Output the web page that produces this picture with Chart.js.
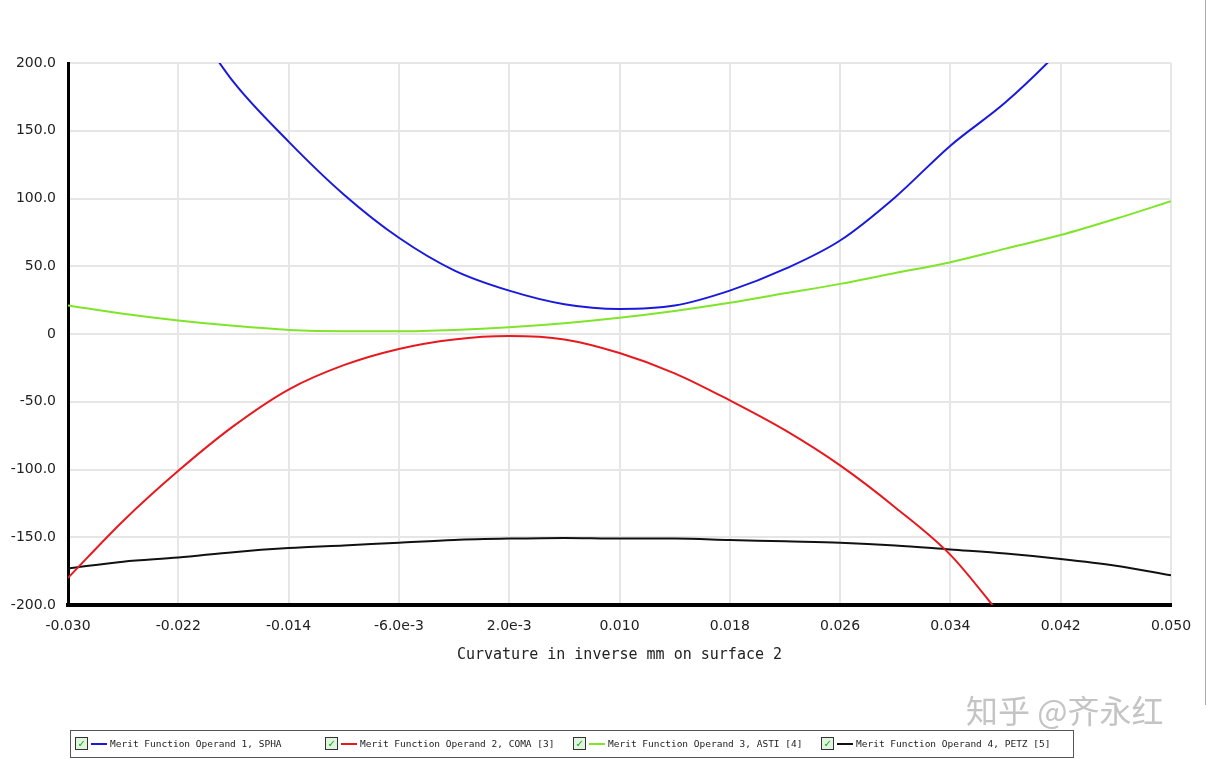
<!DOCTYPE html>
<html><head><meta charset="utf-8">
<script src="https://cdn.jsdelivr.net/npm/chart.js@4"></script>
<style>
body{margin:0;background:#fff;width:1225px;height:759px;overflow:hidden;position:relative;font-family:"DejaVu Sans",sans-serif}
#c{position:absolute;left:0;top:0}
#xt{position:absolute;left:68px;width:1103px;top:645px;text-align:center;font:15px "DejaVu Sans Mono",monospace;color:#222}
#leg{position:absolute;left:70px;top:730px;width:1002px;height:26px;border:1px solid #555;font:9.5px "DejaVu Sans Mono",monospace;color:#222}
.it{position:absolute;top:6px;display:flex;align-items:center}
.cb{width:11px;height:11px;border:1px solid #333;background:#dff5df;color:#0a0;font-size:11px;line-height:11px;text-align:center;font-weight:bold;margin-right:3px}
.ln{width:16px;height:2px;margin-right:3px}
#wm{position:absolute;left:966px;top:686px;font:32px "Noto Sans CJK SC";color:#c4c4c4}
#rb{position:absolute;left:1205px;top:0;width:1px;height:705px;background:#aaa}
</style></head><body>
<canvas id="c" width="1225" height="759"></canvas>
<div id="rb"></div>
<div id="xt">Curvature in inverse mm on surface 2</div>
<div id="wm">知乎 @齐永红</div>
<div id="leg"></div>
<script>
const xs=[-0.030,-0.026,-0.022,-0.018,-0.014,-0.010,-0.006,-0.002,0.002,0.006,0.010,0.014,0.018,0.022,0.026,0.030,0.034,0.038,0.042,0.046,0.050];
const spha=[360,300,245,186,142,103,71,47,32,22,18.5,21,32,48,69,101,139,171,210,255,300];
const coma=[-180,-138,-101,-68,-41,-23,-11,-4,-1.5,-4,-14,-29,-49,-71,-97,-128,-163,-212,-260,-310,-360];
const asti=[21,15,10,6,3,2,2,3,5,8,12,17,23,30,37,45,53,63,73,85,98];
const petz=[-173,-168,-165,-161,-158,-156,-154,-152,-151,-150.5,-151,-151,-152,-153,-154,-156,-159,-162,-166,-171,-178];
const xTickLabels=["-0.030","-0.022","-0.014","-6.0e-3","2.0e-3","0.010","0.018","0.026","0.034","0.042","0.050"];
const yTickLabels={"200":"200.0","150":"150.0","100":"100.0","50":"50.0","0":"0","-50":"-50.0","-100":"-100.0","-150":"-150.0","-200":"-200.0"};
const names=["Merit Function Operand 1, SPHA","Merit Function Operand 2, COMA [3]","Merit Function Operand 3, ASTI [4]","Merit Function Operand 4, PETZ [5]"];
const cols=["#1a1adc","#e8191e","#7fe52a","#111111"];
const series=[spha,coma,asti,petz];
const legX=[4,254,502,750];
const leg=document.getElementById('leg');
names.forEach((n,i)=>{leg.insertAdjacentHTML('beforeend',`<div class="it" style="left:${legX[i]}px"><div class="cb">✓</div><div class="ln" style="background:${cols[i]}"></div><span>${n}</span></div>`)});
new Chart(document.getElementById('c'),{type:'line',
data:{datasets:series.map((s,i)=>({label:names[i],data:xs.map((x,j)=>({x,y:s[j]})),borderColor:cols[i],borderWidth:2,pointRadius:0,cubicInterpolationMode:'monotone'}))},
options:{animation:false,responsive:false,layout:{padding:{top:63,right:54,left:0,bottom:0}},
plugins:{legend:{display:false},tooltip:{enabled:false}},
scales:{
x:{type:'linear',min:-0.03,max:0.05,afterBuildTicks:s=>{s.ticks=xTickLabels.map((l,i)=>({value:-0.03+0.008*i}))},
 ticks:{callback:(v,i)=>xTickLabels[i],color:'#222',font:{family:'DejaVu Sans',size:14},maxRotation:0,padding:13},
 grid:{color:'#e6e6e6',lineWidth:2,drawTicks:false},border:{color:'#000',width:4},afterFit:s=>{s.height=154}},
y:{min:-200,max:200,afterBuildTicks:s=>{s.ticks=[-200,-150,-100,-50,0,50,100,150,200].map(v=>({value:v}))},
 ticks:{callback:v=>yTickLabels[String(v)],color:'#222',font:{family:'DejaVu Sans',size:14},padding:12},
 grid:{color:'#e6e6e6',lineWidth:2,drawTicks:false},border:{color:'#000',width:3},afterFit:s=>{s.width=68}}
}}});
</script></body></html>
